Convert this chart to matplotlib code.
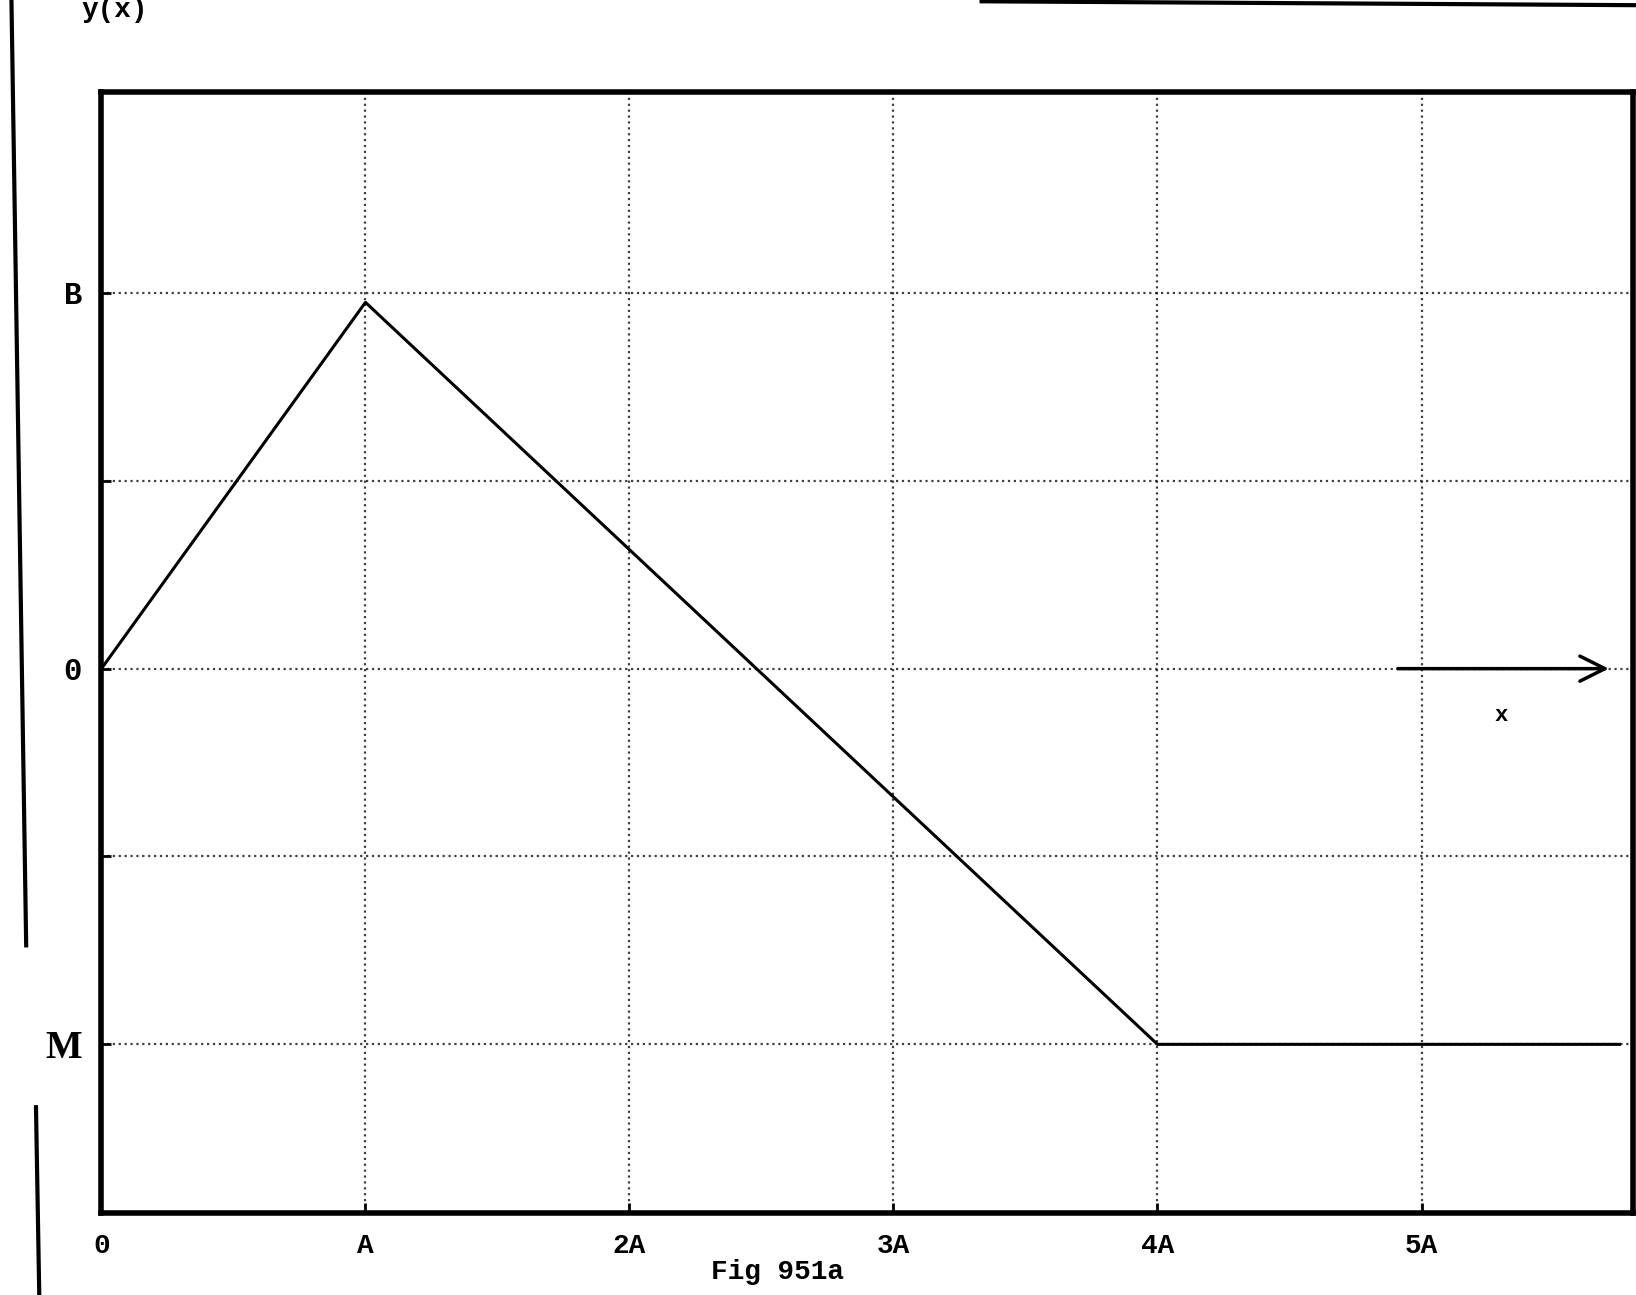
import matplotlib.pyplot as plt
from matplotlib.lines import Line2D

# curve y(x), x in units of A, y in grid steps (B = 2, M = -2)
x_pts = [0, 1, 4, 5.75]
y_pts = [0, 1.95, -2, -2]

x_ticks = [0, 1, 2, 3, 4, 5]
x_labels = ['0', 'A', '2A', '3A', '4A', '5A']
y_ticks = [2, 1, 0, -1, -2]
y_labels = ['B', '', '0', '', 'M']

fig = plt.figure(figsize=(16.36, 12.95), dpi=100)
ax = fig.add_axes([0.062, 0.063, 0.936, 0.866])

ax.plot(x_pts, y_pts, color='black', linewidth=2.2)
ax.set_xlim(0, 5.8)
ax.set_ylim(-2.9, 3.07)

ax.set_xticks(x_ticks)
ax.set_xticklabels(x_labels, fontfamily='Liberation Mono', fontweight='bold', fontsize=20)
ax.set_yticks(y_ticks)
ax.set_yticklabels(y_labels, fontfamily='Liberation Mono', fontweight='bold', fontsize=22)
for lab in ax.get_yticklabels():
    if lab.get_text() == 'M':
        lab.set_fontfamily('Liberation Serif')
        lab.set_fontsize(28)
ax.tick_params(direction='in', length=7, width=2, pad=14, colors='black')
ax.grid(True, linestyle=':', color='black', linewidth=1.6, alpha=0.75)

for s in ax.spines.values():
    s.set_linewidth(4)

# x-direction arrow
ax.annotate('', xy=(5.72, 0), xytext=(4.9, 0),
            arrowprops=dict(arrowstyle='->', color='black', lw=2.5, mutation_scale=45))
ax.text(5.3, -0.25, 'x', fontfamily='Liberation Mono', fontweight='bold', fontsize=16,
        ha='center', va='center')

fig.text(0.05, 0.992, 'y(x)', fontfamily='Liberation Mono', fontweight='bold', fontsize=20,
         ha='left', va='center')
fig.text(0.475, 0.018, 'Fig 951a', fontfamily='Liberation Mono', fontweight='bold', fontsize=20,
         ha='center', va='center')

# stray lines from the scanned page
fig.add_artist(Line2D([0.007, 0.016], [1.0, 0.27], color='black', linewidth=3))
fig.add_artist(Line2D([0.022, 0.024], [0.145, 0.0], color='black', linewidth=3))
fig.add_artist(Line2D([0.6, 1.0], [0.999, 0.996], color='black', linewidth=3))

fig.savefig('out.png', dpi=100)
